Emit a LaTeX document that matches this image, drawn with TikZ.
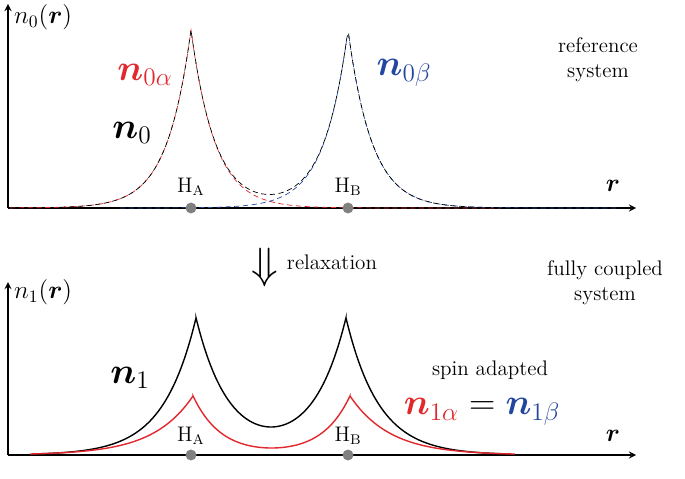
\documentclass[tikz,border=0pt]{standalone}
\usepackage{amsmath,amssymb}
\usepackage{xcolor}
\usepackage{tikz}
\definecolor{nred}{RGB}{225,40,45}
\definecolor{nblue}{RGB}{35,70,160}
\tikzset{
  axis/.style={thick,-stealth},
  hdot/.style={circle,fill=gray,inner sep=2.2pt},
  big/.style={font=\huge},
}
\begin{document}
\begin{tikzpicture}[x=0.02cm,y=-0.02cm]
    \useasboundingbox (0,0) rectangle (685,479);

    % Upper panel - reference system
    \coordinate (o0) at (8,208);
    \coordinate (y0) at (8,4);
    \coordinate (x0) at (636,208);
    \draw[axis] (o0) -- (y0);
    \draw[axis] (o0) -- (x0);
    \node[right] (lab0) at (8,17) {\Large $n_0(\boldsymbol{r})$};
    \node (r0) at (613,186) {\Large $\boldsymbol{r}$};
    \node[align=center, font=\large] (ref) at (598,60) {reference\\system};

    \draw[nred, densely dashed] plot[domain=10:500, samples=250]
        (\x, {208-178*exp(-abs(\x-191)/24)});
    \draw[nblue, densely dashed] plot[domain=120:620, samples=250]
        (\x, {208-178*exp(-abs(\x-348)/24)});
    \draw[black, densely dashed] plot[domain=60:500, samples=300]
        (\x, {208-178*exp(-abs(\x-191)/24)-178*exp(-abs(\x-348)/24)});

    \node[big, nred] (n0a) at (145,75) {$\boldsymbol{n}_{0\alpha}$};
    \node[big, nblue] (n0b) at (404,73) {$\boldsymbol{n}_{0\beta}$};
    \node[big] (n0) at (132,133) {$\boldsymbol{n}_0$};

    \node[hdot] (ha0) at (191,208) {};
    \node[hdot] (hb0) at (348,208) {};
    \node[font=\large] (la0) at (191,187) {H$_{\text{A}}$};
    \node[font=\large] (lb0) at (348,187) {H$_{\text{B}}$};

    % Relaxation
    \node (arr) at (265,268) {\Huge $\Downarrow$};
    \node[font=\large] (relax) at (332,262) {relaxation};

    % Lower panel - fully coupled system
    \coordinate (o1) at (8,455);
    \coordinate (y1) at (8,282);
    \coordinate (x1) at (636,455);
    \draw[axis] (o1) -- (y1);
    \draw[axis] (o1) -- (x1);
    \node[right] (lab1) at (8,292) {\Large $n_1(\boldsymbol{r})$};
    \node (r1) at (613,436) {\Large $\boldsymbol{r}$};
    \node[align=center, font=\large] (full) at (605,283) {fully coupled\\system};

    % black total density
    \draw[thick] plot[domain=40:196, samples=120] (\x, {455-137*exp(-(196-\x)/33)})
        -- plot[domain=196:346, samples=120] (\x, {455-28*cosh((\x-271)/33)})
        -- plot[domain=346:510, samples=120] (\x, {455-137*exp(-(\x-346)/33)});
    % red spin density
    \draw[nred, thick] plot[domain=30:193, samples=120] (\x, {455-59*exp(-(193-\x)/40)})
        -- plot[domain=193:350, samples=120] (\x, {455-7*cosh((\x-271.5)/27.8)})
        -- plot[domain=350:515, samples=120] (\x, {455-59*exp(-(\x-350)/40)});

    \node[big] (n1) at (130,378) {$\boldsymbol{n}_1$};
    \node[font=\large] (spin) at (490,370) {spin adapted};
    \node[big] (n1ab) at (482,412)
        {$\textcolor{nred}{\boldsymbol{n}_{1\alpha}}=\textcolor{nblue}{\boldsymbol{n}_{1\beta}}$};

    \node[hdot] (ha1) at (191,455) {};
    \node[hdot] (hb1) at (348,455) {};
    \node[font=\large] (la1) at (191,436) {H$_{\text{A}}$};
    \node[font=\large] (lb1) at (348,436) {H$_{\text{B}}$};
\end{tikzpicture}
\end{document}
